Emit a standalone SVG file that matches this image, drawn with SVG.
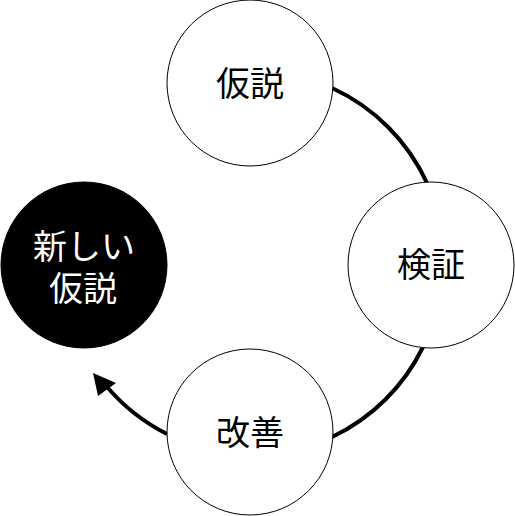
<svg xmlns="http://www.w3.org/2000/svg" width="515" height="516" viewBox="0 0 515 516">
<defs>
<style>
.node{fill:#fff;stroke:#000;stroke-width:1}
.dark{fill:#000;stroke:#000;stroke-width:1}
.lbl{font-family:"Noto Sans CJK JP","Noto Sans",sans-serif;font-size:34px;text-anchor:middle;fill:#000}
.wlbl{font-family:"Noto Sans CJK JP","Noto Sans",sans-serif;font-size:34px;text-anchor:middle;fill:#fff}
.conn{fill:none;stroke:#000;stroke-width:4}
</style>
</defs>
<rect width="515" height="516" fill="#fff"/>
<g id="connectors">
<path class="conn" d="M 332 88 A 193 193 0 0 1 427 183"/>
<path class="conn" d="M 423 347 A 193 193 0 0 1 332 437"/>
<path class="conn" d="M 167 434 A 193 193 0 0 1 108 388"/>
<polygon points="93,373 98,396 116,383" fill="#000"/>
</g>
<g id="node-hypothesis">
<circle class="node" cx="250" cy="83" r="83"/>
<text class="lbl" x="250" y="96">仮説</text>
</g>
<g id="node-verify">
<circle class="node" cx="431" cy="265" r="83"/>
<text class="lbl" x="431" y="277">検証</text>
</g>
<g id="node-improve">
<circle class="node" cx="250" cy="432" r="83"/>
<text class="lbl" x="250" y="445">改善</text>
</g>
<g id="node-new-hypothesis">
<circle class="dark" cx="84" cy="265" r="83"/>
<text class="wlbl"><tspan x="84" y="259">新しい</tspan><tspan x="83" y="301">仮説</tspan></text>
</g>
</svg>
